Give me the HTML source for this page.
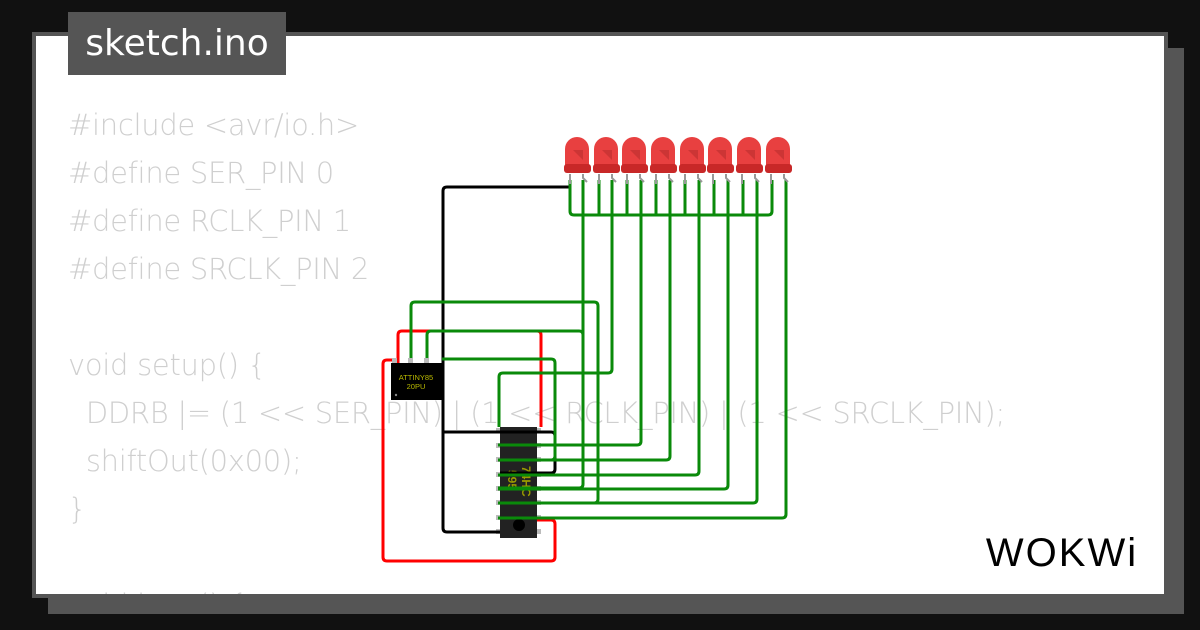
<!DOCTYPE html>
<html><head><meta charset="utf-8"><style>
html,body{margin:0;padding:0;background:#111;width:1200px;height:630px;overflow:hidden;position:relative;font-family:"Liberation Sans","DejaVu Sans",sans-serif}
.sh{position:absolute;left:48px;top:48px;width:1136px;height:566px;background:#555}
.card{position:absolute;left:32px;top:32px;width:1128px;height:558px;background:#fff;border:4px solid #555;overflow:hidden}
.code{position:absolute;left:32px;top:65px;color:#cfcfcf;font-size:29px;line-height:48px;white-space:pre;font-family:"DejaVu Sans","Liberation Sans",sans-serif;font-weight:300;letter-spacing:-0.3px}
.tab{position:absolute;left:68px;top:12px;width:218px;height:63px;background:#555;color:#fff;font-size:36px;line-height:63px;text-align:center;font-family:"DejaVu Sans","Liberation Sans",sans-serif}
svg{position:absolute;left:0;top:0}
</style></head><body>
<div class="sh"></div>
<div class="card"><div class="code">#include &lt;avr/io.h&gt;
#define SER_PIN 0
#define RCLK_PIN 1
#define SRCLK_PIN 2

void setup() {
  DDRB |= (1 &lt;&lt; SER_PIN) | (1 &lt;&lt; RCLK_PIN) | (1 &lt;&lt; SRCLK_PIN);
  shiftOut(0x00);
}

void loop() {</div></div>
<div class="tab">sketch.ino</div>
<svg width="1200" height="630" viewBox="0 0 1200 630">
<!-- chip 74HC595 -->
<g>
<rect x="500" y="427" width="37" height="111" fill="#222"/>
<g fill="#bbb">
<rect x="496" y="428" width="4" height="5"/><rect x="496" y="443" width="4" height="5"/><rect x="496" y="457" width="4" height="5"/><rect x="496" y="472" width="4" height="5"/><rect x="496" y="486" width="4" height="5"/><rect x="496" y="500" width="4" height="5"/><rect x="496" y="515" width="4" height="5"/><rect x="496" y="529" width="4" height="5"/>
<rect x="537" y="428" width="4" height="5"/><rect x="537" y="443" width="4" height="5"/><rect x="537" y="457" width="4" height="5"/><rect x="537" y="472" width="4" height="5"/><rect x="537" y="486" width="4" height="5"/><rect x="537" y="500" width="4" height="5"/><rect x="537" y="515" width="4" height="5"/><rect x="537" y="529" width="4" height="5"/>
</g>
<circle cx="519" cy="525" r="6" fill="#000"/>
<text x="0" y="0" transform="translate(522,466) rotate(90)" fill="#9a9a00" font-size="12" font-weight="bold" font-family="Liberation Sans,sans-serif">74HC</text>
<text x="0" y="0" transform="translate(508,470) rotate(90)" fill="#9a9a00" font-size="12" font-weight="bold" font-family="Liberation Sans,sans-serif">595</text>
</g>
<g fill="none" stroke-width="3" stroke-linejoin="round">
<path d="M571 187 H447 Q443 187 443 191 V528 Q443 532 447 532 H500" stroke="#000"/>
<path d="M443 432 H551 Q555 432 555 436 V469 Q555 473 551 473 H500" stroke="#000"/>
<path d="M398 363 V335 Q398 331 402 331 H537 Q541 331 541 335 V427" stroke="#f00"/>
<path d="M392 360 H387 Q383 360 383 364 V557 Q383 561 387 561 H551 Q555 561 555 557 V524 Q555 520 551 520 H537" stroke="#f00"/>
<path d="M411 363 V306 Q411 302 415 302 H594 Q598 302 598 306 V499 Q598 503 594 503 H498" stroke="#0a8a0a"/>
<path d="M427 363 V335 Q427 331 431 331 H579 Q583 331 583 335 V484 Q583 488 579 488 H498" stroke="#0a8a0a"/>
<path d="M442 359 H551 Q555 359 555 363 V456 Q555 460 551 460 H498" stroke="#0a8a0a"/>
<path d="M570 180 V211 Q570 215 574 215 H768 Q772 215 772 211 V180" stroke="#0a8a0a"/>
<path d="M599 180 V215 M627 180 V215 M656 180 V215 M685 180 V215 M714 180 V215 M743 180 V215" stroke="#0a8a0a"/>
<path d="M583 180 V335" stroke="#0a8a0a"/>
<path d="M612 180 V369 Q612 373 608 373 H503 Q499 373 499 377 V427" stroke="#0a8a0a"/>
<path d="M641 180 V441 Q641 445 637 445 H498" stroke="#0a8a0a"/>
<path d="M670 180 V456 Q670 460 666 460 H498" stroke="#0a8a0a"/>
<path d="M699 180 V471 Q699 475 695 475 H498" stroke="#0a8a0a"/>
<path d="M728 180 V485 Q728 489 724 489 H498" stroke="#0a8a0a"/>
<path d="M757 180 V499 Q757 503 753 503 H498" stroke="#0a8a0a"/>
<path d="M786 180 V514 Q786 518 782 518 H498" stroke="#0a8a0a"/>
</g>
<g>
<rect x="391" y="363" width="51" height="37" fill="#000"/>
<rect x="392" y="358" width="5" height="5" fill="#bbb"/><rect x="408" y="358" width="5" height="5" fill="#bbb"/><rect x="424" y="358" width="5" height="5" fill="#bbb"/>
<text x="416" y="380" fill="#b8b800" font-size="7.5" text-anchor="middle" font-family="Liberation Sans,sans-serif">ATTINY85</text>
<text x="416" y="389" fill="#b8b800" font-size="7.5" text-anchor="middle" font-family="Liberation Sans,sans-serif">20PU</text>
<circle cx="396" cy="395" r="1.2" fill="#888"/>
</g>
<g>
<g transform="translate(577,0)"><path d="M-7 174 V184 M6 174 L6 178 L10 182" stroke="#999" stroke-width="2" fill="none"/><path d="M-12 172 V149 A12 12 0 0 1 12 149 V172 Z" fill="#e84040"/><rect x="-13" y="164" width="27" height="9" rx="3" fill="#c82828"/><path d="M-4 150 L6 150 L6 160 Z" fill="#c03030" opacity=".7"/></g>
<g transform="translate(606,0)"><path d="M-7 174 V184 M6 174 L6 178 L10 182" stroke="#999" stroke-width="2" fill="none"/><path d="M-12 172 V149 A12 12 0 0 1 12 149 V172 Z" fill="#e84040"/><rect x="-13" y="164" width="27" height="9" rx="3" fill="#c82828"/><path d="M-4 150 L6 150 L6 160 Z" fill="#c03030" opacity=".7"/></g>
<g transform="translate(634,0)"><path d="M-7 174 V184 M6 174 L6 178 L10 182" stroke="#999" stroke-width="2" fill="none"/><path d="M-12 172 V149 A12 12 0 0 1 12 149 V172 Z" fill="#e84040"/><rect x="-13" y="164" width="27" height="9" rx="3" fill="#c82828"/><path d="M-4 150 L6 150 L6 160 Z" fill="#c03030" opacity=".7"/></g>
<g transform="translate(663,0)"><path d="M-7 174 V184 M6 174 L6 178 L10 182" stroke="#999" stroke-width="2" fill="none"/><path d="M-12 172 V149 A12 12 0 0 1 12 149 V172 Z" fill="#e84040"/><rect x="-13" y="164" width="27" height="9" rx="3" fill="#c82828"/><path d="M-4 150 L6 150 L6 160 Z" fill="#c03030" opacity=".7"/></g>
<g transform="translate(692,0)"><path d="M-7 174 V184 M6 174 L6 178 L10 182" stroke="#999" stroke-width="2" fill="none"/><path d="M-12 172 V149 A12 12 0 0 1 12 149 V172 Z" fill="#e84040"/><rect x="-13" y="164" width="27" height="9" rx="3" fill="#c82828"/><path d="M-4 150 L6 150 L6 160 Z" fill="#c03030" opacity=".7"/></g>
<g transform="translate(720,0)"><path d="M-7 174 V184 M6 174 L6 178 L10 182" stroke="#999" stroke-width="2" fill="none"/><path d="M-12 172 V149 A12 12 0 0 1 12 149 V172 Z" fill="#e84040"/><rect x="-13" y="164" width="27" height="9" rx="3" fill="#c82828"/><path d="M-4 150 L6 150 L6 160 Z" fill="#c03030" opacity=".7"/></g>
<g transform="translate(749,0)"><path d="M-7 174 V184 M6 174 L6 178 L10 182" stroke="#999" stroke-width="2" fill="none"/><path d="M-12 172 V149 A12 12 0 0 1 12 149 V172 Z" fill="#e84040"/><rect x="-13" y="164" width="27" height="9" rx="3" fill="#c82828"/><path d="M-4 150 L6 150 L6 160 Z" fill="#c03030" opacity=".7"/></g>
<g transform="translate(778,0)"><path d="M-7 174 V184 M6 174 L6 178 L10 182" stroke="#999" stroke-width="2" fill="none"/><path d="M-12 172 V149 A12 12 0 0 1 12 149 V172 Z" fill="#e84040"/><rect x="-13" y="164" width="27" height="9" rx="3" fill="#c82828"/><path d="M-4 150 L6 150 L6 160 Z" fill="#c03030" opacity=".7"/></g>
</g>
<text x="1062" y="566" text-anchor="middle" font-size="40" font-family="Liberation Sans,DejaVu Sans,sans-serif" fill="#000" letter-spacing="2">WOKWi</text>
</svg>
</body></html>
